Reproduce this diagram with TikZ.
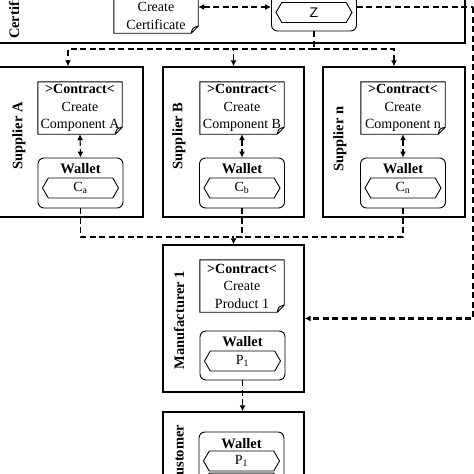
\documentclass[tikz,border=0pt]{standalone}
\usepackage{fontspec}
\setmainfont{Liberation Serif}
\setsansfont{Liberation Sans}
\usetikzlibrary{arrows.meta,shapes.symbols}

\tikzset{
	party/.style = {draw, line width = 1.3pt, inner sep = 0pt},
	contract/.style = {minimum width = 84pt, minimum height = 52pt, inner sep = 0pt, align = center},
	wallet/.style = {draw, line width = 0.9pt, rounded corners = 6pt, minimum width = 85pt},
	wtitle/.style = {font = \fontsize{14.5}{17}\selectfont\bfseries},
	token/.style = {draw, line width = 0.9pt, signal, signal to = west and east, signal pointer angle = 120, minimum width = 76pt, minimum height = 20pt, inner sep = 0pt},
	spent/.style = {token, fill = gray!60},
	flow/.style = {dash pattern = on 6pt off 3.5pt, line width = 1.1pt},
	tip/.style = {-{Latex[length = 6pt, width = 6pt]}},
	tips/.style = {{Latex[length = 6pt, width = 6pt]}-{Latex[length = 6pt, width = 6pt]}},
	role/.style = {rotate = 90, font = \fontsize{14.5}{17}\selectfont\bfseries},
}

\begin{document}
\begin{tikzpicture}[x = 1pt, y = -1pt, font = \fontsize{14}{17.5}\selectfont]
	\useasboundingbox (0, 0) rectangle (474, 474);
	\clip (0, 0) rectangle (474, 474);
	
	% parties
	\node[party, minimum width = 480pt, minimum height = 90pt] (cert) at (225, -2) {};
	\node[party, minimum width = 150pt, minimum height = 150pt] (sA) at (68, 142) {};
	\node[party, minimum width = 141pt, minimum height = 150pt] (sB) at (233.5, 142) {};
	\node[party, minimum width = 142pt, minimum height = 150pt] (sN) at (394, 142) {};
	\node[party, minimum width = 141pt, minimum height = 147pt] (mB) at (233.5, 318.5) {};
	\node[party, minimum width = 141pt, minimum height = 88pt] (cB) at (233.5, 456) {};
	
	\node[role] (lcert) at (14, 12) {Certifier};
	\node[role] (lsA) at (19, 136) {Supplier A};
	\node[role] (lsB) at (179, 136) {Supplier B};
	\node[role] (lsN) at (340, 139) {Supplier n};
	\node[role] (lM) at (179, 320) {Manufacturer 1};
	\node[role] (lC) at (179, 455.5) {Customer};
	
	% contracts
	\node[contract] (dC) at (156, 7) {\textbf{>Contract<}\\Create\\Certificate};
	\node[contract] (dA) at (80, 108) {\textbf{>Contract<}\\Create\\Component A};
	\node[contract] (dB) at (242, 108) {\textbf{>Contract<}\\Create\\Component B};
	\node[contract] (dN) at (403, 108) {\textbf{>Contract<}\\Create\\Component n};
	\node[contract] (dM) at (242, 286) {\textbf{>Contract<}\\Create\\Product 1};
	\foreach \d in {dC, dA, dB, dN, dM}
	\draw[line width = 0.9pt] (\d.north west) -- (\d.north east) -- ([yshift = 7pt]\d.south east)
	-- ([xshift = -7pt]\d.south east) -- (\d.south west) -- cycle
	([xshift = -7pt]\d.south east) .. controls +(1pt, 5pt) and +(-5pt, -1pt) .. ([yshift = 7pt]\d.south east);
	
	% wallets
	\node[wallet, minimum height = 76pt] (wZ) at (314, -7) {};
	\node[wtitle] (lwZ) at (314, -33) {Wallet};
	\node[spent] (gZ) at (314, -10.5) {};
	\node[token, font = \fontsize{14}{17.5}\selectfont\sffamily] (tZ) at (314, 12.5) {Z};
	
	\node[wallet, minimum height = 50pt] (wA) at (80.5, 183) {};
	\node[wtitle] (lwA) at (80.5, 169) {Wallet};
	\node[token] (tA) at (80.5, 188) {C\textsubscript{a}};
	
	\node[wallet, minimum height = 50pt] (wB) at (242, 183) {};
	\node[wtitle] (lwB) at (242, 169) {Wallet};
	\node[token] (tB) at (242, 188) {C\textsubscript{b}};
	
	\node[wallet, minimum height = 50pt] (wN) at (403, 183) {};
	\node[wtitle] (lwN) at (403, 169) {Wallet};
	\node[token] (tN) at (403, 188) {C\textsubscript{n}};
	
	\node[wallet, minimum height = 49pt] (wM) at (242.5, 355.5) {};
	\node[wtitle] (lwM) at (242.5, 342) {Wallet};
	\node[token] (tM) at (242.5, 361) {P\textsubscript{1}};
	
	\node[wallet, minimum height = 76pt] (wC) at (241.5, 470) {};
	\node[wtitle] (lwC) at (241.5, 444) {Wallet};
	\node[token] (tC) at (241.5, 461) {P\textsubscript{1}};
	\node[spent] (gC) at (241.5, 483) {};
	
	% flows
	\coordinate (zr) at (473, 7);
	\coordinate (jz) at (314, 49);
	\coordinate (jm) at (233.5, 237);
	
	\draw[flow, tips] (dC.east) -- (dC.east -| wZ.west);
	\draw[flow] (dC.east -| wZ.east) -- (zr);
	\draw[flow, line width = 2.4pt, tip] (zr) |- (mB.east);
	
	\draw[flow] (wZ.south) -- (jz);
	\draw[flow, tip] (jz) -| (sA.north);
	\draw[flow, tip] (jz) -| (sB.north);
	\draw[flow, tip] (jz) -| (sN.north);
	
	\draw[flow, tips] (dA.south) -- (wA.north);
	\draw[flow, tips] (dB.south) -- (wB.north);
	\draw[flow, tips] (dN.south) -- (wN.north);
	
	\draw[flow] (wA.south) |- (jm);
	\draw[flow] (wB.south) |- (jm);
	\draw[flow] (wN.south) |- (jm);
	\draw[flow, tip] (jm) -- (mB.north);
	
	\draw[flow, tip] (wM.south) -- (wM.south |- cB.north);
\end{tikzpicture}
\end{document}
